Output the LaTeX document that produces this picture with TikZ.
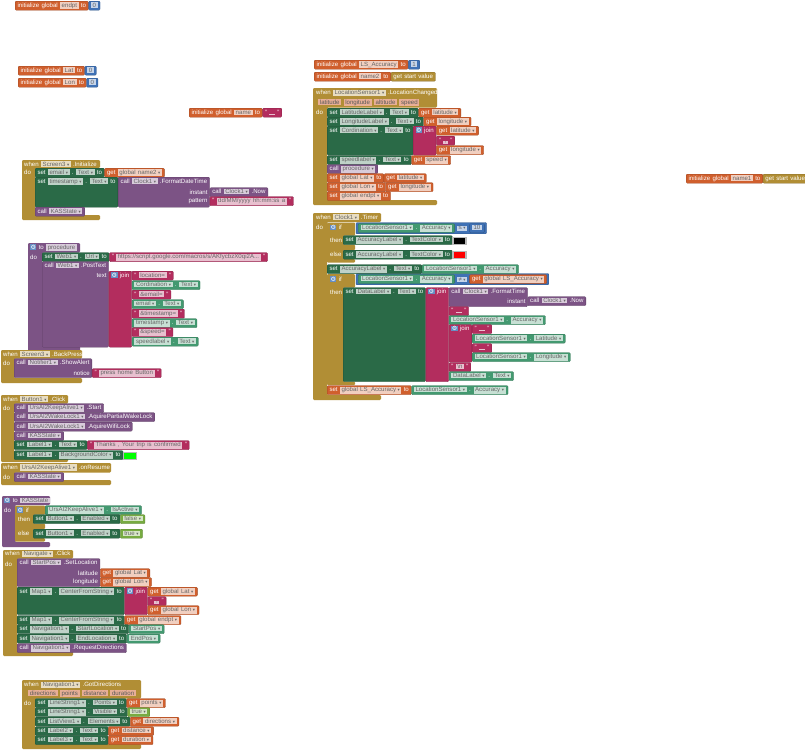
\documentclass[tikz,border=0pt]{standalone}
\usepackage{fontspec}
\setmainfont{Liberation Sans}
\newfontfamily\symf{DejaVu Sans}
\usepackage{xcolor}
\usepackage{tikz}
\usetikzlibrary{positioning,calc,fit,backgrounds}

\definecolor{varc}{HTML}{D05F2D}
\definecolor{ctlc}{HTML}{B18E35}
\definecolor{mathc}{HTML}{3F71B5}
\definecolor{setc}{HTML}{2A6A47}
\definecolor{getc}{HTML}{439970}
\definecolor{procc}{HTML}{7C5385}
\definecolor{txtc}{HTML}{B32D5E}
\definecolor{logc}{HTML}{77AB41}

\newcommand{\bc}{varc}
\newcommand{\bfont}{\fontsize{6.1}{6.8}\selectfont\spaceskip=2.3pt plus 0.3pt}
\newcommand{\fld}[1]{{\setlength{\fboxsep}{0.6pt}\colorbox{\bc!30!white}{\hspace{1pt}\textcolor{black!60}{#1}\hspace{1pt}}}}
\newcommand{\dd}[1]{\fld{#1\hspace{1.6pt}{\symf\fontsize{4.3}{5}\selectfont ▾}}}
\newcommand{\prm}[1]{{\setlength{\fboxsep}{0.7pt}\colorbox{varc!50!white}{\hspace{1pt}\textcolor{black!65}{#1}\hspace{1pt}}}}
\newcommand{\gear}{{\setlength{\fboxsep}{0.4pt}\colorbox{mathc!80!white}{\textcolor{white}{\symf ⚙}}}}
\newcommand{\cshape}[7]{\fill[#1,rounded corners=1.2pt] (#2,#3) -- (#4,#3) -- (#4,#5) -- (#6,#5) -- (#6,#7-5) -- (#4,#7-5) -- (#4,#7) -- (#2,#7) -- cycle;}
\newcommand{\ifshape}[8]{\fill[ctlc,rounded corners=1pt] (#1,#2) -- (#3,#2) -- (#3,#5) -- (#4,#5) -- (#4,#6) -- (#3,#6) -- (#3,#7) -- (#4,#7) -- (#4,#8-3.5) -- (#3,#8-3.5) -- (#3,#8) -- (#1,#8) -- cycle;}

\begin{document}
\begin{tikzpicture}[x=1pt,y=-1pt,
  blk/.style={anchor=north west,inner xsep=2.4pt,inner ysep=1.6pt,text height=4.4pt,text depth=1.4pt,rounded corners=1pt,line width=0.3pt,text=white,font=\bfont},
  bk/.style={blk,fill=#1,draw=#1!75!black,execute at begin node=\def\bc{#1}},
  var/.style={bk=varc},
  ctl/.style={bk=ctlc},
  num/.style={bk=mathc},
  set/.style={bk=setc},
  getv/.style={bk=getc},
  proc/.style={bk=procc},
  txt/.style={bk=txtc},
  bool/.style={bk=logc},
  lab/.style={anchor=west,inner sep=0pt,text=white,font=\bfont,execute at begin node=\def\bc{#1}},
  lab/.default=ctlc,
  labr/.style={lab=#1,anchor=east,xshift=-2pt},
  labr/.default=procc,
  swatch/.style={anchor=north west,fill=#1,draw=gray!55,line width=1.2pt,minimum width=13pt,minimum height=7pt,inner sep=0pt},
  cmpbg/.style={fill=mathc,draw=mathc!75!black,line width=0.3pt,rounded corners=1pt,inner xsep=2pt,inner ysep=1pt}]

\begin{scope}[on background layer]
\fill[white] (0,0) rectangle (805,750);
\end{scope}
\useasboundingbox (0,0) rectangle (805,750);

\node[var] (ea) at (15,1) {initialize global \fld{endpt} to};
\node[num] (eb) at (ea.north east) {\fld{0}};
\node[var] (la) at (18,66) {initialize global \fld{Lat} to};
\node[num] (lb) at (la.north east) {\fld{0}};
\node[var] (oa) at (18,78) {initialize global \fld{Lon} to};
\node[num] (ob) at (oa.north east) {\fld{0}};
\node[var] (na) at (189,108) {initialize global \fld{name} to};
\node[txt] (nb) at (na.north east) {" \fld{\hspace{2.5pt}} "};
\node[var] (aa) at (314,60) {initialize global \fld{LS\_Accuracy} to};
\node[num] (ab) at (aa.north east) {\fld{1}};
\node[var] (ma) at (314,72) {initialize global \fld{name2} to};
\node[ctl] (mb) at (ma.north east) {get start value};
\node[var] (ka) at (686,174) {initialize global \fld{name1} to};
\node[ctl] (kb) at (ka.north east) {get start value};

\cshape{ctlc}{313}{88}{437}{107.5}{327}{205}
\node[lab] (g0) at (316,93) {when \dd{LocationSensor1} .LocationChanged};
\node[lab] (gp) at (318,102.5) {\prm{latitude} \prm{longitude} \prm{altitude} \prm{speed}};
\node[lab] (gd) at (316,112.5) {do};
\node[set] (g1) at (327,108) {set \dd{LatitudeLabel} . \dd{Text} to};
\node[var] (g1v) at (g1.north east) {get \dd{latitude}};
\node[set] (g2) at (327,117) {set \dd{LongitudeLabel} . \dd{Text} to};
\node[var] (g2v) at (g2.north east) {get \dd{longitude}};
\node[set,text depth=21.4pt] (g3) at (327,126) {set \dd{Cordination} . \dd{Text} to};
\node[txt,text depth=21.4pt] (g3j) at (g3.north east) {\gear\ join};
\node[var] (g3a) at (g3j.north east) {get \dd{latitude}};
\node[txt] (g3b) at (g3j.east |- 0,136) {" \fld{,} "};
\node[var] (g3c) at (g3j.east |- 0,145.5) {get \dd{longitude}};
\node[set] (g4) at (327,155.5) {set \dd{speedlabel} . \dd{Text} to};
\node[var] (g4v) at (g4.north east) {get \dd{speed}};
\node[proc] (g5) at (327,164.5) {call \dd{procedure}};
\node[var] (g6) at (327,173.5) {set \dd{global Lat} to};
\node[var] (g6v) at (g6.north east) {get \dd{latitude}};
\node[var] (g7) at (327,182.5) {set \dd{global Lon} to};
\node[var] (g7v) at (g7.north east) {get \dd{longitude}};
\node[var] (g8) at (327,191.5) {set \dd{global endpt} to};

\cshape{ctlc}{22}{160}{100}{168}{35}{220}
\node[lab] (i0) at (24,164) {when \dd{Screen3} .Initialize};
\node[lab] (id) at (24,172.5) {do};
\node[set] (i1) at (35,168) {set \dd{email} . \dd{Text} to};
\node[var] (i1v) at (i1.north east) {get \dd{global name2}};
\node[set,text depth=22.4pt] (i2) at (35,177) {set \dd{timestamp} . \dd{Text} to};
\node[proc,text depth=22.4pt] (i2c) at (i2.north east) {call \dd{Clock1} .FormatDateTime};
\node[labr] (i2l) at (i2c.east |- 0,192) {instant};
\node[labr] (i2m) at (i2c.east |- 0,201) {pattern};
\node[proc] (i2n) at (i2c.east |- 0,187.5) {call \dd{Clock1} .Now};
\node[txt] (i2p) at (i2c.east |- 0,196.5) {" \fld{dd/MM/yyyy hh:mm:ss a} "};
\node[proc] (i3) at (35,207) {call \dd{KASState}};

\cshape{procc}{28}{243}{80}{252.5}{42}{351}
\node[lab=procc] (j0) at (30,247.5) {\gear\ to \fld{procedure}};
\node[lab=procc] (jd) at (30,257) {do};
\node[set] (j1) at (42,252.5) {set \dd{Web1} . \dd{Url} to};
\node[txt] (j1t) at (j1.north east) {" \fld{https://script.google.com/macros/s/AKfycbzX0qi2A...} "};
\node[proc,text depth=77.9pt] (j2) at (42,261.5) {call \dd{Web1} .PostText};
\node[labr] (j2l) at (j2.east |- 0,276) {text};
\node[txt,text depth=68.4pt] (j2j) at (j2.east |- 0,271) {\gear\ join};
\node[txt] (j3) at (j2j.north east) {" \fld{location=} "};
\node[getv] (j4) at (j2j.east |- 0,280.5) {\dd{Cordination} . \dd{Text}};
\node[txt] (j5) at (j2j.east |- 0,290) {" \fld{\&email=} "};
\node[getv] (j6) at (j2j.east |- 0,299.5) {\dd{email} . \dd{Text}};
\node[txt] (j7) at (j2j.east |- 0,309) {" \fld{\&timestamp=} "};
\node[getv] (j8) at (j2j.east |- 0,318.5) {\dd{timestamp} . \dd{Text}};
\node[txt] (j9) at (j2j.east |- 0,327.5) {" \fld{\&speed=} "};
\node[getv] (j10) at (j2j.east |- 0,337) {\dd{speedlabel} . \dd{Text}};

\cshape{ctlc}{1}{350}{82}{358.5}{14}{383}
\node[lab] (b0) at (3,354) {when \dd{Screen3} .BackPressed};
\node[lab] (bd) at (3,363) {do};
\node[proc,text depth=11.4pt] (b1) at (14,358.5) {call \dd{Notifier1} .ShowAlert};
\node[labr] (b1l) at (b1.east |- 0,373) {notice};
\node[txt] (b1t) at (b1.east |- 0,368.5) {" \fld{press home Button} "};

\cshape{ctlc}{1}{395}{68}{403.5}{14}{462}
\node[lab] (c0) at (3,399) {when \dd{Button1} .Click};
\node[lab] (cd) at (3,408) {do};
\node[proc] (c1) at (14,403.5) {call \dd{UrsAI2KeepAlive1} .Start};
\node[proc] (c2) at (14,412.5) {call \dd{UrsAI2WakeLock1} .AquirePartialWakeLock};
\node[proc] (c3) at (14,422) {call \dd{UrsAI2WakeLock1} .AquireWifiLock};
\node[proc] (c4) at (14,431.5) {call \dd{KASState}};
\node[set] (c5) at (14,440.5) {set \dd{Label1} . \dd{Text} to};
\node[txt] (c5t) at (c5.north east) {" \fld{Thanks , Your trip is confirmed} "};
\node[set] (c6) at (14,450.5) {set \dd{Label1} . \dd{BackgroundColor} to};
\node[swatch=green] (c6s) at ($(c6.north east)+(0,1)$) {};

\cshape{ctlc}{1}{463}{111}{472.5}{14}{485}
\node[lab] (r0) at (3,467.5) {when \dd{UrsAI2KeepAlive1} .onResume};
\node[lab] (rd) at (3,477) {do};
\node[proc] (r1) at (14,472.5) {call \dd{KASState}};

\cshape{procc}{2}{496}{50}{505}{15}{547}
\node[lab=procc] (s0) at (4,500.5) {\gear\ to \fld{KASState}};
\node[lab=procc] (sd) at (4,510) {do};
\ifshape{15}{505.5}{45}{33}{514.5}{523.5}{529}{541.5}
\node[lab] (s1) at (17,510) {\gear\ if};
\node[getv] (s1c) at (45,505.5) {\dd{UrsAI2KeepAlive1} . \dd{IsActive}};
\node[lab] (s2l) at (18,519) {then};
\node[set] (s2) at (33,514.5) {set \dd{Button1} . \dd{Enabled} to};
\node[bool] (s2b) at (s2.north east) {\dd{false}};
\node[lab] (s3l) at (18,533.5) {else};
\node[set] (s3) at (33,529) {set \dd{Button1} . \dd{Enabled} to};
\node[bool] (s3b) at (s3.north east) {\dd{true}};

\cshape{ctlc}{3}{550}{73}{558.5}{17}{656}
\node[lab] (v0) at (5,554) {when \dd{Navigate} .Click};
\node[lab] (vd) at (5,564) {do};
\node[proc,text depth=20.4pt] (v1) at (17,558.5) {call \dd{StartPos} .SetLocation};
\node[labr] (v1l) at (v1.east |- 0,573) {latitude};
\node[labr] (v1m) at (v1.east |- 0,582) {longitude};
\node[var] (v1a) at (v1.east |- 0,568.5) {get \dd{global Lat}};
\node[var] (v1b) at (v1.east |- 0,577.5) {get \dd{global Lon}};
\node[set,text depth=19.9pt] (v2) at (17,587) {set \dd{Map1} . \dd{CenterFromString} to};
\node[txt,text depth=19.9pt] (v2j) at (v2.north east) {\gear\ join};
\node[var] (v2a) at (v2j.north east) {get \dd{global Lat}};
\node[txt] (v2b) at (v2j.east |- 0,596.5) {" \fld{,} "};
\node[var] (v2c) at (v2j.east |- 0,605.5) {get \dd{global Lon}};
\node[set] (v3) at (17,615.5) {set \dd{Map1} . \dd{CenterFromString} to};
\node[var] (v3v) at (v3.north east) {get \dd{global endpt}};
\node[set] (v4) at (17,624.5) {set \dd{Navigation1} . \dd{StartLocation} to};
\node[getv] (v4v) at (v4.north east) {\dd{StartPos}};
\node[set] (v5) at (17,634) {set \dd{Navigation1} . \dd{EndLocation} to};
\node[getv] (v5v) at (v5.north east) {\dd{EndPos}};
\node[proc] (v6) at (17,643.5) {call \dd{Navigation1} .RequestDirections};

\cshape{ctlc}{22}{680}{141}{698.5}{35}{749}
\node[lab] (w0) at (24,685) {when \dd{Navigation1} .GotDirections};
\node[lab] (wp) at (28,693.5) {\prm{directions} \prm{points} \prm{distance} \prm{duration}};
\node[lab] (wd) at (24,703) {do};
\node[set] (w1) at (35,698.5) {set \dd{LineString1} . \dd{Points} to};
\node[var] (w1v) at (w1.north east) {get \dd{points}};
\node[set] (w2) at (35,707.5) {set \dd{LineString1} . \dd{Visible} to};
\node[bool] (w2v) at (w2.north east) {\dd{true}};
\node[set] (w3) at (35,717) {set \dd{ListView1} . \dd{Elements} to};
\node[var] (w3v) at (w3.north east) {get \dd{directions}};
\node[set] (w4) at (35,726.5) {set \dd{Label2} . \dd{Text} to};
\node[var] (w4v) at (w4.north east) {get \dd{distance}};
\node[set] (w5) at (35,735.5) {set \dd{Label3} . \dd{Text} to};
\node[var] (w5v) at (w5.north east) {get \dd{duration}};

\cshape{ctlc}{313}{213}{381}{222}{327}{400}
\node[lab] (t0) at (316,217) {when \dd{Clock1} .Timer};
\node[lab] (td) at (316,227) {do};
\ifshape{327}{222.5}{355}{343}{235.5}{244.5}{250}{262.5}
\node[lab] (t1) at (330,227.5) {\gear\ if};
\node[getv] (t1a) at (358,223.5) {\dd{LocationSensor1} . \dd{Accuracy}};
\node[lab=mathc,right=2pt of t1a] (t1b) {\dd{≤}};
\node[num,anchor=west,right=2pt of t1b] (t1c) {\fld{10}};
\begin{scope}[on background layer]
\node[cmpbg,fit=(t1a)(t1c)] (t1f) {};
\end{scope}
\node[lab] (t2l) at (330,240) {then};
\node[set] (t2) at (343,235.5) {set \dd{AccuracyLabel} . \dd{TextColor} to};
\node[swatch=black] (t2s) at ($(t2.north east)+(0,1)$) {};
\node[lab] (t3l) at (330,254.5) {else};
\node[set] (t3) at (343,250) {set \dd{AccuracyLabel} . \dd{TextColor} to};
\node[swatch=red] (t3s) at ($(t3.north east)+(0,1)$) {};
\node[set] (t4) at (327,264.5) {set \dd{AccuracyLabel} . \dd{Text} to};
\node[getv] (t4v) at (t4.north east) {\dd{LocationSensor1} . \dd{Accuracy}};
\fill[ctlc,rounded corners=1pt] (327,274) -- (355,274) -- (355,287.5) -- (343,287.5) -- (343,381.5) -- (355,381.5) -- (355,385) -- (327,385) -- cycle;
\node[lab] (t5) at (330,279) {\gear\ if};
\node[getv] (t5a) at (358,274.5) {\dd{LocationSensor1} . \dd{Accuracy}};
\node[lab=mathc,right=2pt of t5a] (t5b) {\dd{≠}};
\node[var,anchor=west,right=2pt of t5b] (t5c) {get \dd{global LS\_Accuracy}};
\begin{scope}[on background layer]
\node[cmpbg,fit=(t5a)(t5c)] (t5f) {};
\end{scope}
\node[lab] (t6l) at (330,292) {then};
\node[set,text depth=86.4pt] (t6) at (343,287.5) {set \dd{DataLabel} . \dd{Text} to};
\node[txt,text depth=86.4pt] (t6j) at (t6.north east) {\gear\ join};
\node[proc,text depth=11.4pt] (t7) at (t6j.north east) {call \dd{Clock1} .FormatTime};
\node[labr] (t7l) at (t7.east |- 0,301) {instant};
\node[proc] (t7n) at (t7.east |- 0,296.5) {call \dd{Clock1} .Now};
\node[txt] (t8) at (t6j.east |- 0,306.5) {" \fld{\hspace{3pt}} "};
\node[getv] (t9) at (t6j.east |- 0,315.5) {\dd{LocationSensor1} . \dd{Accuracy}};
\node[txt,text depth=29.9pt] (t10) at (t6j.east |- 0,324.5) {\gear\ join};
\node[txt] (t10a) at (t10.north east) {" \fld{\hspace{3pt}} "};
\node[getv] (t10b) at (t10.east |- 0,334) {\dd{LocationSensor1} . \dd{Latitude}};
\node[txt] (t10c) at (t10.east |- 0,343.5) {" \fld{\hspace{3pt}} "};
\node[getv] (t10d) at (t10.east |- 0,352.5) {\dd{LocationSensor1} . \dd{Longitude}};
\node[txt] (t11) at (t6j.east |- 0,362.5) {" \fld{\textbackslash n} "};
\node[getv] (t12) at (t6j.east |- 0,371.5) {\dd{DataLabel} . \dd{Text}};
\node[var] (t13) at (327,385.5) {set \dd{global LS\_Accuracy} to};
\node[getv] (t13v) at (t13.north east) {\dd{LocationSensor1} . \dd{Accuracy}};
\end{tikzpicture}
\end{document}
